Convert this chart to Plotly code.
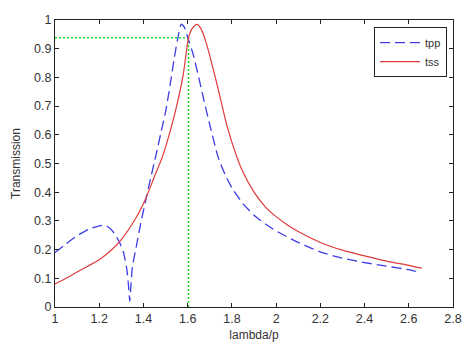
import plotly.graph_objects as go

# tpp (blue dashed)
tpp_x = [1.0, 1.05, 1.1, 1.15, 1.2, 1.23, 1.26, 1.29, 1.31, 1.325, 1.333, 1.338,
         1.343, 1.35, 1.37, 1.39, 1.41, 1.43, 1.455, 1.48, 1.5, 1.52, 1.54, 1.555,
         1.571, 1.585, 1.6, 1.625, 1.65, 1.675, 1.7, 1.737, 1.77, 1.8, 1.85, 1.9,
         1.95, 2.0, 2.1, 2.2, 2.3, 2.4, 2.5, 2.6, 2.64]
tpp_y = [0.19, 0.22, 0.248, 0.27, 0.283, 0.284, 0.265, 0.228, 0.19, 0.13, 0.07, 0.02,
         0.07, 0.14, 0.22, 0.3, 0.37, 0.44, 0.524, 0.61, 0.68, 0.77, 0.87, 0.935,
         0.986, 0.975, 0.94, 0.88, 0.8, 0.715, 0.635, 0.524, 0.46, 0.415, 0.36, 0.32,
         0.29, 0.265, 0.225, 0.192, 0.17, 0.155, 0.142, 0.13, 0.122]

# tss (red solid)
tss_x = [1.0, 1.05, 1.1, 1.15, 1.2, 1.25, 1.3, 1.35, 1.4, 1.45, 1.486, 1.52, 1.55,
         1.58, 1.604, 1.62, 1.642, 1.66, 1.68, 1.7, 1.725, 1.75, 1.78, 1.822, 1.85,
         1.9, 1.95, 2.0, 2.05, 2.1, 2.2, 2.3, 2.4, 2.5, 2.6, 2.66]
tss_y = [0.08, 0.1, 0.122, 0.143, 0.165, 0.195, 0.235, 0.29, 0.36, 0.455, 0.524, 0.61, 0.7,
         0.81, 0.938, 0.97, 0.985, 0.97, 0.93, 0.875, 0.8, 0.72, 0.625, 0.524, 0.47,
         0.4, 0.35, 0.315, 0.287, 0.263, 0.225, 0.198, 0.178, 0.16, 0.145, 0.135]

# green dotted guide lines
guide_h_x = [1.0, 1.604]
guide_h_y = [0.938, 0.938]
guide_v_x = [1.604, 1.604]
guide_v_y = [0.0, 0.938]

x_ticks = [1, 1.2, 1.4, 1.6, 1.8, 2, 2.2, 2.4, 2.6, 2.8]
x_tick_text = ["1", "1.2", "1.4", "1.6", "1.8", "2", "2.2", "2.4", "2.6", "2.8"]
y_ticks = [0, 0.1, 0.2, 0.3, 0.4, 0.5, 0.6, 0.7, 0.8, 0.9, 1]
y_tick_text = ["0", "0.1", "0.2", "0.3", "0.4", "0.5", "0.6", "0.7", "0.8", "0.9", "1"]

FONT = "Liberation Sans, Arial"

fig = go.Figure()
fig.add_trace(go.Scatter(x=guide_h_x, y=guide_h_y, mode="lines", showlegend=False,
                         line=dict(color="#22dd22", width=1.5, dash="2px,2px")))
fig.add_trace(go.Scatter(x=guide_v_x, y=guide_v_y, mode="lines", showlegend=False,
                         line=dict(color="#22dd22", width=1.5, dash="2px,2px")))
fig.add_trace(go.Scatter(x=tpp_x, y=tpp_y, mode="lines", name="tpp",
                         line=dict(color="#3c3ce6", width=1.3, dash="10px,5px",
                                   shape="spline", smoothing=0.5)))
fig.add_trace(go.Scatter(x=tss_x, y=tss_y, mode="lines", name="tss",
                         line=dict(color="#e03a3a", width=1.2, shape="spline", smoothing=0.8)))

axis_common = dict(showgrid=False, zeroline=False, showline=True, linecolor="#222",
                   linewidth=1, mirror="ticks", ticks="inside", ticklen=4,
                   tickcolor="#222", tickfont=dict(family=FONT, size=12.5, color="#333"))

fig.update_xaxes(range=[1, 2.8], tickvals=x_ticks, ticktext=x_tick_text,
                 title=dict(text="lambda/p", font=dict(family=FONT, size=12, color="#333"), standoff=5),
                 **axis_common)
fig.update_yaxes(range=[0, 1], tickvals=y_ticks, ticktext=y_tick_text,
                 title=dict(text="Transmission", font=dict(family=FONT, size=12, color="#333"), standoff=10),
                 **axis_common)

fig.update_layout(
    width=474, height=351,
    margin=dict(l=55, r=20, t=20, b=37),
    paper_bgcolor="white", plot_bgcolor="white",
    legend=dict(x=0.985, y=0.975, xanchor="right", yanchor="top",
                bordercolor="#222", borderwidth=1, bgcolor="white",
                font=dict(family=FONT, size=11, color="#333"),
                tracegroupgap=0, itemwidth=40),
)

fig.write_html("out.html")
